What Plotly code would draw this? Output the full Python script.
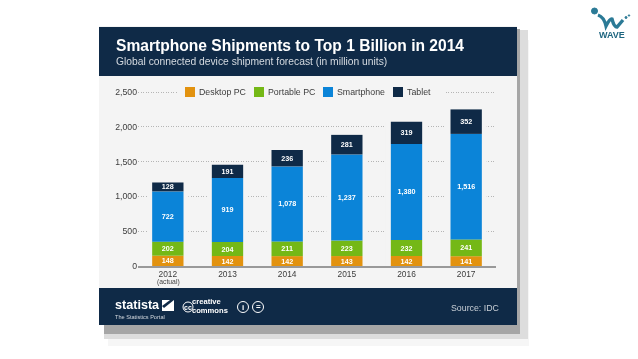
import plotly.graph_objects as go

years = ["2012", "2013", "2014", "2015", "2016", "2017"]
desktop = [148, 142, 142, 143, 142, 141]
portable = [202, 204, 211, 223, 232, 241]
smartphone = [722, 919, 1078, 1237, 1380, 1516]
tablet = [128, 191, 236, 281, 319, 352]
series_names = ["Desktop PC", "Portable PC", "Smartphone", "Tablet"]
series_colors = ["#E2920F", "#74B816", "#0B84D8", "#0F2A47"]
y_ticks = [0, 500, 1000, 1500, 2000, 2500]

DARK = "#0F2A47"
BG = "#F4F4F4"
TEAL = "#2B7A96"
L, R, T, B = 138, 496, 90, 266
W, H = 638, 359
Y2500_PX = 92
y_top = 2500 * (B - T) / (B - Y2500_PX)

def px(x):
    return (x - L) / (R - L)

def py(y):
    return (B - y) / (B - T)

def rect(x0, y0, x1, y1, color, layer="below"):
    return dict(type="rect", xref="paper", yref="paper", x0=px(x0), x1=px(x1), y0=py(y0), y1=py(y1),
                fillcolor=color, line_width=0, layer=layer)

def circle(cx, cy, r, fill, line=None, lw=1, layer="above"):
    return dict(type="circle", xref="paper", yref="paper", x0=px(cx - r), x1=px(cx + r), y0=py(cy - r), y1=py(cy + r),
                fillcolor=fill, line=dict(color=line or fill, width=lw), layer=layer)

def note(x, y, text, size, color, bold=False, anchor="left", family="Liberation Sans"):
    label = f"<b>{text}</b>" if bold else text
    return dict(xref="paper", yref="paper", x=px(x), y=py(y), text=label, showarrow=False, xanchor=anchor,
                yanchor="middle", font=dict(size=size, color=color, family=family), borderpad=0, borderwidth=0)

shapes = [
    rect(108, 40, 529, 346, "#F6F6F6"),
    rect(104, 30, 528, 339, "#DDDDDD"),
    rect(104, 29, 520, 334, "#A6A6A6"),
    rect(99, 26, 517, 325, BG),
    rect(99, 27, 517, 76, DARK),
    rect(99, 288, 517, 325, DARK),
    rect(178, 85, 445, 99, BG, "above"),
]

# legend swatches
swatch_x = [185, 254, 323, 393]
label_x = [199, 268, 337, 407]
annotations = []
for sx, lx, name, color in zip(swatch_x, label_x, series_names, series_colors):
    shapes.append(rect(sx, 87, sx + 10, 97, color, "above"))
    annotations.append(note(lx, 92, name, 8.8, "#3C3C3C"))

# statista logo
shapes.append(rect(162, 300, 174, 311, "#FFFFFF", "above"))
shapes.append(dict(type="path", xref="paper", yref="paper", layer="above", line_width=0, fillcolor=DARK,
                   path=f"M{px(162)},{py(306)} L{px(170)},{py(300)} L{px(174)},{py(300)} L{px(164)},{py(308)} Z"))
# cc badges
shapes += [circle(188, 307, 5, DARK, "#FFFFFF", 1), circle(243, 307, 5.5, DARK, "#FFFFFF", 1), circle(258, 307, 5.5, DARK, "#FFFFFF", 1)]
# wave logo
shapes.append(circle(594.5, 11, 3, TEAL))
shapes.append(dict(type="path", xref="paper", yref="paper", layer="above", fillcolor="rgba(0,0,0,0)",
                   line=dict(color=TEAL, width=3.4),
                   path=f"M{px(598)},{py(15)} Q{px(604)},{py(17)} {px(606)},{py(26)} Q{px(610)},{py(18)} {px(612)},{py(19)} "
                        f"Q{px(614)},{py(27)} {px(617)},{py(27)} L{px(623)},{py(20)}"))
shapes.append(circle(626, 17.5, 1, TEAL))
shapes.append(circle(629, 15.5, 0.7, TEAL))

annotations += [
    note(116, 45, "Smartphone Shipments to Top 1 Billion in 2014", 15.6, "#FFFFFF", True),
    note(116, 62, "Global connected device shipment forecast (in million units)", 10.3, "#D5DAE0"),
    note(115, 305, "statista", 12.6, "#FFFFFF", True),
    note(115, 316.5, "The Statistics Portal", 5.6, "#D5DAE0"),
    note(188, 307, "cc", 7, "#FFFFFF", True, "center"),
    note(192, 301.5, "creative", 7.6, "#FFFFFF", True),
    note(192, 310, "commons", 7.6, "#FFFFFF", True),
    note(243, 307, "i", 8, "#FFFFFF", True, "center"),
    note(258, 306.5, "=", 8, "#FFFFFF", True, "center"),
    note(500, 308, "Source: IDC", 8.8, "#C9CFD6", False, "right"),
    note(612, 35, "WAVE", 9, "#1F6680", True, "center"),
    note(168, 281.5, "(actual)", 6.8, "#444444", False, "center"),
]

fig = go.Figure()
totals = [a + b + c + d for a, b, c, d in zip(desktop, portable, smartphone, tablet)]
fig.add_bar(x=years, y=totals, width=0.69, marker=dict(color=BG, line_width=0), showlegend=False, hoverinfo="skip")

base = [0] * len(years)
for name, values, color in zip(series_names, [desktop, portable, smartphone, tablet], series_colors):
    fig.add_bar(x=years, y=values, base=base, name=name, width=0.525, showlegend=False,
                marker=dict(color=color, line_width=0),
                text=[f"{v:,}" for v in values], textposition="inside", insidetextanchor="middle",
                textangle=0, constraintext="none",
                textfont=dict(size=7.2, color="#FFFFFF", family="Liberation Sans", weight="bold"))
    base = [b + v for b, v in zip(base, values)]

fig.update_layout(
    width=W, height=H, barmode="overlay", showlegend=False,
    margin=dict(l=L, r=W - R, t=T, b=H - B, pad=0),
    paper_bgcolor="#FFFFFF", plot_bgcolor="rgba(0,0,0,0)",
    font=dict(family="Liberation Sans", color="#3C3C3C", size=9),
    shapes=shapes, annotations=annotations,
)
fig.update_xaxes(type="category", tickvals=years, ticktext=years, showgrid=False, showline=True,
                 linecolor="#999999", linewidth=1.5, ticks="", tickfont=dict(size=8.4, color="#3C3C3C"),
                 ticklabelstandoff=-1, fixedrange=True)
fig.update_yaxes(range=[0, y_top], tickvals=y_ticks, tickformat=",", showgrid=True, griddash="1px,1.5px",
                 gridcolor="#B5B5B5", gridwidth=1, zeroline=False, ticks="",
                 tickfont=dict(size=8.7, color="#3C3C3C"), fixedrange=True)

fig.write_html("out.html", config={"displayModeBar": False},
               post_script="document.body.style.margin='0';document.body.style.overflow='hidden';document.body.style.filter='blur(0.5px)';")
